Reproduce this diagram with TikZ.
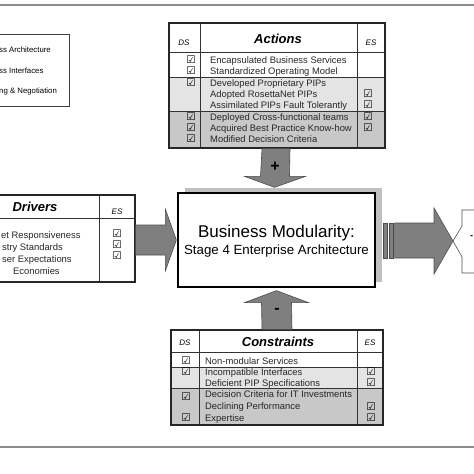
\documentclass[tikz,border=0pt]{standalone}
\usepackage{fontspec}
\setmainfont{Liberation Sans}
\newfontfamily\symfont{DejaVu Sans}
\usepackage{tikz}
\usetikzlibrary{calc, shadows}

\definecolor{arrowgray}{HTML}{7F7F7F}
\definecolor{lightband}{HTML}{E4E4E4}
\definecolor{darkband}{HTML}{C8C8C8}
\definecolor{shadowgray}{HTML}{C0C0C0}
\definecolor{rulegray}{HTML}{8C8C8C}

\newcommand{\rowsize}{\fontsize{9.4}{11}\selectfont}
\newcommand{\legsize}{\fontsize{7.8}{9}\selectfont}
\newcommand{\headsize}{\fontsize{13}{15}\selectfont\bfseries\itshape}
\newcommand{\colsize}{\fontsize{8}{9}\selectfont\itshape}
\newcommand{\chksize}{\symfont\bfseries\fontsize{10.5}{10.5}\selectfont}

\tikzset{
  frame/.style={draw=black!85, line width=1.1pt, inner sep=0pt},
  rule/.style={draw=black!80, line width=0.8pt},
  rowtext/.style={font=\rowsize, anchor=west, inner sep=0pt, text height=6.7pt, text depth=0pt, text=black!85},
  legtext/.style={font=\legsize, anchor=west, inner sep=0pt, text height=5.6pt, text depth=0pt},
  tabhead/.style={font=\headsize, inner sep=0pt},
  colhead/.style={font=\colsize, inner sep=0pt},
  chk/.style={font=\chksize, inner sep=0pt, text=black},
  blockarrow/.style={fill=arrowgray, draw=black!70, line width=0.6pt},
  sign/.style={font=\fontsize{16}{16}\selectfont\bfseries, inner sep=0pt},
}

\begin{document}
\begin{tikzpicture}[x=1pt, y=-1pt]
\useasboundingbox (0,0) rectangle (474,474);
\clip (0,0) rectangle (474,474);

% page rules
\draw[rulegray, line width=1.5pt] (0,5) -- (474,5);
\draw[rulegray, line width=1.5pt] (0,447) -- (474,447);

% Legend
\draw[black!75, line width=0.6pt] (-5,34) rectangle (69,106);
\node[legtext] (leg-1) at (-1,50) {ss Architecture};
\node[legtext] (leg-2) at (-1,71) {ss Interfaces};
\node[legtext] (leg-3) at (-1,91) {ng \& Negotiation};

% Actions table
\fill[lightband] (169,77) rectangle (385,111);
\fill[darkband] (169,111) rectangle (385,148);
\draw[rule] (169,52) -- (385,52);
\draw[rule] (169,77) -- (385,77);
\draw[rule] (169,111) -- (385,111);
\draw[rule] (200,23) -- (200,148);
\draw[rule] (357,23) -- (357,148);
\node[frame, minimum width=216, minimum height=125] (act) at (277,85.5) {};
\node[colhead] (act-ds) at (184,43) {DS};
\node[tabhead] (act-head) at (278,39) {Actions};
\node[colhead] (act-es) at (371,43) {ES};
\node[rowtext] (a-r1) at (210,60) {Encapsulated Business Services};
\node[rowtext] (a-r2) at (210,71) {Standardized Operating Model};
\node[rowtext] (a-r3) at (210,83) {Developed Proprietary PIPs};
\node[rowtext] (a-r4) at (210,94) {Adopted RosettaNet PIPs};
\node[rowtext] (a-r5) at (210,105) {Assimilated PIPs Fault Tolerantly};
\node[rowtext] (a-r6) at (210,117) {Deployed Cross-functional teams};
\node[rowtext] (a-r7) at (210,128) {Acquired Best Practice Know-how};
\node[rowtext] (a-r8) at (210,139) {Modified Decision Criteria};
\node[chk] (a-ds1) at (191,60) {☑};
\node[chk] (a-ds2) at (191,71) {☑};
\node[chk] (a-ds3) at (191,83) {☑};
\node[chk] (a-ds6) at (191,117) {☑};
\node[chk] (a-ds7) at (191,128) {☑};
\node[chk] (a-ds8) at (191,139) {☑};
\node[chk] (a-es4) at (368,94) {☑};
\node[chk] (a-es5) at (368,105) {☑};
\node[chk] (a-es6) at (368,117) {☑};
\node[chk] (a-es7) at (368,128) {☑};

% Drivers table
\draw[rule] (-5,218) -- (135,218);
\draw[rule] (99,195) -- (99,282);
\node[frame, minimum width=140, minimum height=87] (drv) at (65,238.5) {};
\node[tabhead] (drv-head) at (35,207) {Drivers};
\node[colhead] (drv-es) at (117,212) {ES};
\node[rowtext] (d-r1) at (1,235) {et Responsiveness};
\node[rowtext] (d-r2) at (2,247) {stry Standards};
\node[rowtext] (d-r3) at (2,259) {ser Expectations};
\node[rowtext] (d-r4) at (13,271) {Economies};
\node[chk] (d-es1) at (117,234) {☑};
\node[chk] (d-es2) at (117,245) {☑};
\node[chk] (d-es3) at (117,256) {☑};

% Constraints table
\fill[lightband] (171,367) rectangle (383,388);
\fill[darkband] (171,388) rectangle (383,425);
\draw[rule] (171,352) -- (383,352);
\draw[rule] (171,367) -- (383,367);
\draw[rule] (171,388) -- (383,388);
\draw[rule] (199,330) -- (199,425);
\draw[rule] (357,330) -- (357,425);
\node[frame, minimum width=212, minimum height=95] (con) at (277,377.5) {};
\node[colhead] (con-ds) at (185,343) {DS};
\node[tabhead] (con-head) at (278,342) {Constraints};
\node[colhead] (con-es) at (370,343) {ES};
\node[rowtext] (c-r1) at (205,361) {Non-modular Services};
\node[rowtext] (c-r2) at (205,372) {Incompatible Interfaces};
\node[rowtext] (c-r3) at (205,383) {Deficient PIP Specifications};
\node[rowtext] (c-r4) at (205,394) {Decision Criteria for IT Investments};
\node[rowtext] (c-r5) at (205,406) {Declining Performance};
\node[rowtext] (c-r6) at (205,418) {Expertise};
\node[chk] (c-ds1) at (186,361) {☑};
\node[chk] (c-ds2) at (186,372) {☑};
\node[chk] (c-ds4) at (186,397) {☑};
\node[chk] (c-ds6) at (186,418) {☑};
\node[chk] (c-es2) at (371,372) {☑};
\node[chk] (c-es3) at (371,383) {☑};
\node[chk] (c-es5) at (371,407) {☑};
\node[chk] (c-es6) at (371,418) {☑};

% Center box
\node[draw=black, line width=1.3pt, fill=white, minimum width=197, minimum height=94,
      drop shadow={shadow xshift=7pt, shadow yshift=5pt, fill=shadowgray, opacity=1}] (core) at (276.5,240) {};
\node[font=\fontsize{17}{17}\selectfont, inner sep=0pt] (core-title) at (276.5,233) {Business Modularity:};
\node[font=\fontsize{13.3}{14}\selectfont, inner sep=0pt] (core-sub) at (276.5,251) {Stage 4 Enterprise Architecture};

% Right brace
\coordinate (brace-tip) at (453,241);
\draw[black!70, line width=0.6pt] (476,210) -- (462,210) -- (462,226) -- (brace-tip) -- (462,257) -- (462,273) -- (476,273);
\node[font=\bfseries\fontsize{9}{9}\selectfont, inner sep=0pt, anchor=west] (brace-txt) at (470,237) {-};

% Block arrows
\draw[blockarrow] ($(act.south)+(-15,0)$) -- ($(core.north)+(-16,-16)$) -- ($(core.north)+(-32,-16)$)
  -- ($(core.north)+(-2,-5)$) -- ($(core.north)+(29,-16)$) -- ($(core.north)+(13,-16)$)
  -- ($(act.south)+(13,0)$) -- cycle;
\node[sign] (plus) at (275,167) {+};

\draw[blockarrow] ($(con.north)+(-15,0)$) -- ($(core.south)+(-15,15)$) -- ($(core.south)+(-32,15)$)
  -- ($(core.south)+(0,3)$) -- ($(core.south)+(32,15)$) -- ($(core.south)+(15,15)$)
  -- ($(con.north)+(15,0)$) -- cycle;
\node[sign] (minus) at (277,311) {-};

\draw[blockarrow] ($(drv.east |- core.west)+(0,-15)$) -- ($(core.west)+(-12,-15)$) -- ($(core.west)+(-12,-31)$)
  -- ($(core.west)+(-1,0)$) -- ($(core.west)+(-12,31)$) -- ($(core.west)+(-12,15)$)
  -- ($(drv.east |- core.west)+(0,15)$) -- cycle;

\draw[blockarrow] ($(core.east)+(8,-17)$) rectangle ($(core.east)+(12,18)$);
\draw[blockarrow] ($(core.east)+(14,-17)$) rectangle ($(core.east)+(18,18)$);
\draw[blockarrow] ($(core.east)+(19,-17)$) -- ($(brace-tip)+(-19,-18)$) -- ($(brace-tip)+(-19,-33)$)
  -- (brace-tip) -- ($(brace-tip)+(-19,33)$) -- ($(brace-tip)+(-19,17)$)
  -- ($(core.east)+(19,18)$) -- cycle;
\end{tikzpicture}
\end{document}
